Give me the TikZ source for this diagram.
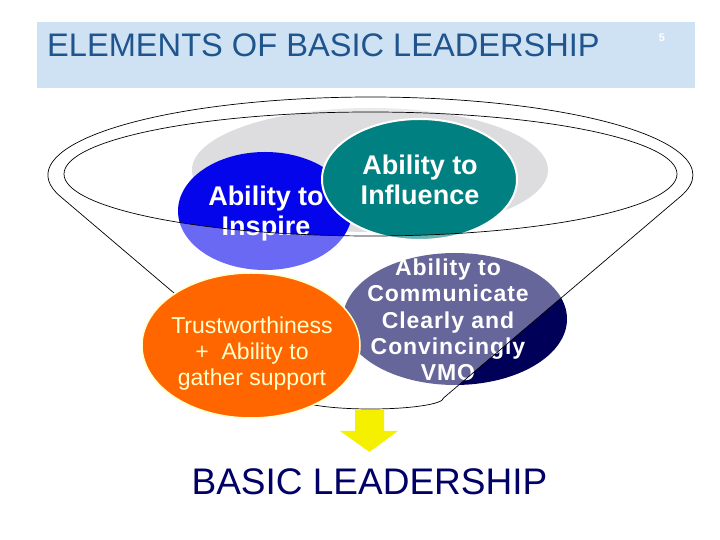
\documentclass[tikz,border=0pt]{standalone}
\usepackage{fontspec}
\setmainfont{Liberation Sans}
\definecolor{headerblue}{RGB}{207,226,243}
\definecolor{titleblue}{RGB}{31,84,140}
\definecolor{inspireblue}{RGB}{5,5,235}
\definecolor{influenceteal}{RGB}{0,128,128}
\definecolor{commnavy}{RGB}{0,0,88}
\definecolor{trustorange}{RGB}{255,102,0}
\definecolor{trustcream}{RGB}{255,255,204}
\definecolor{rimgray}{RGB}{221,221,224}
\definecolor{arrowyellow}{RGB}{245,240,0}
\definecolor{basenavy}{RGB}{0,0,102}
\tikzset{
  bubbletext/.style={text=white, align=center, inner sep=0pt,
    font=\bfseries\fontsize{27}{30}\selectfont},
  commtext/.style={text=white, align=center, inner sep=0pt,
    font=\bfseries\fontsize{23}{26.25}\selectfont\addfontfeature{LetterSpace=4}},
  trusttext/.style={text=trustcream, align=center, inner sep=0pt,
    font=\fontsize{23}{26}\selectfont},
  funnel/.style={draw=black, line width=0.7pt, fill=white, fill opacity=0.4, even odd rule},
}

\begin{document}
\begin{tikzpicture}[x=1pt, y=1pt]

  % canvas
  \fill[white] (0,0) rectangle (720,540);
  \useasboundingbox (0,0) rectangle (720,540);

  % header
  \fill[headerblue] (37,452) rectangle (695,518);
  \node[anchor=base west, text=titleblue, inner sep=0pt,
        font=\fontsize{32.6}{36}\selectfont] (title) at (47,483) {ELEMENTS OF BASIC LEADERSHIP};
  \node[anchor=base, text=white, inner sep=0pt,
        font=\bfseries\fontsize{11}{12}\selectfont] (pagenum) at (662,498) {5};

  % bubbles inside the funnel
  \fill[rimgray] (370,370) ellipse[x radius=178, y radius=62];
  \fill[inspireblue] (265,329) ellipse[x radius=87, y radius=59];
  \node[bubbletext] (inspire) at (266,326.5) {Ability to\\Inspire};
  \filldraw[fill=influenceteal, draw=white, line width=2pt]
    (419.5,360.5) ellipse[x radius=97.5, y radius=60.5];
  \node[bubbletext] (influence) at (420,360) {Ability to\\Influence};
  \fill[commnavy] (455,221) ellipse[x radius=112, y radius=66];
  \node[commtext] (communicate) at (448,220)
    {Ability to\\Communicate\\Clearly and\\Convincingly\\VMO};

  % funnel: rim, sides and neck, body washed out
  \path[funnel] (297.5,142) -- (60.3,343.6)
    arc[start angle=195.9, end angle=-15.9, x radius=322.5, y radius=78]
    -- (443.5,142)
    arc[start angle=0, end angle=-180, x radius=73, y radius=11] -- cycle
    (370.5,366) ellipse[x radius=306.5, y radius=62];

  % trust bubble sits on top of the funnel
  \filldraw[fill=trustorange, draw=trustcream, line width=1.5pt]
    (251,194.5) ellipse[x radius=109, y radius=72.5];
  \node[trusttext] (trust) at (252,186) {Trustworthiness\\+ \ Ability to\\gather support};

  % result arrow
  \fill[arrowyellow] (355,130) -- (384,130) -- (384,109) -- (398,109)
    -- (369.5,88) -- (340,109) -- (355,109) -- cycle;
  \node[anchor=base, text=basenavy, inner sep=0pt,
        font=\fontsize{37}{40}\selectfont] (result) at (369.5,45) {BASIC LEADERSHIP};

\end{tikzpicture}
\end{document}
